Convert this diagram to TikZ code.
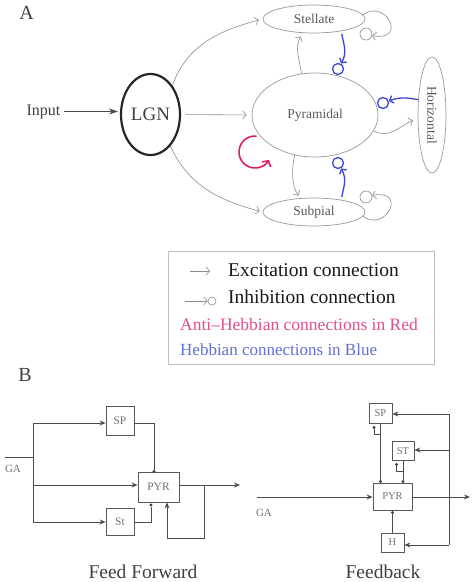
\documentclass[tikz,border=0pt]{standalone}
\usepackage{fontspec}
\setmainfont{Liberation Serif}
\usetikzlibrary{shapes.geometric,arrows.meta,calc}
\definecolor{hblue}{RGB}{60,70,220}
\definecolor{hred}{RGB}{225,30,100}
\definecolor{legpink}{RGB}{225,80,140}
\definecolor{legblue}{RGB}{100,110,215}
\begin{document}
\begin{tikzpicture}[x=1pt,y=1pt,
  ell/.style={ellipse,draw=black!40,line width=0.7pt,inner sep=0pt,text=black!65,font=\fontsize{13.5}{14}\selectfont},
  exc/.style={draw=black!45,line width=0.6pt,-{Straight Barb[length=3.5pt,width=8pt]}},
  hebb/.style={draw=hblue,line width=1.3pt,-{Straight Barb[length=3.5pt,width=8pt]}},
  inhb/.style={circle,draw=hblue,line width=1.3pt,minimum size=11pt,inner sep=0pt},
  inhg/.style={circle,draw=black!45,line width=0.6pt,minimum size=12pt,inner sep=0pt},
  bx/.style={draw=black!65,line width=0.8pt,inner sep=0pt,text=black!55,font=\fontsize{11.5}{12}\selectfont},
  ln/.style={draw=black!70,line width=0.9pt},
  lnar/.style={ln,-{Stealth[length=6pt,width=5pt]}},
  dot/.style={circle,fill=black!75,inner sep=0pt,minimum size=3.2pt},
  lbl/.style={text=black!75},
]
\useasboundingbox (0,0) rectangle (474,-582);
% ---------- Panel A ----------
\node[lbl,font=\fontsize{20}{22}\selectfont] (la) at (26.5,-13) {A};
\node[ell,line width=2.2pt,draw=black!85,minimum width=59pt,minimum height=81pt,text=black!75,font=\fontsize{19}{20}\selectfont] (lgn) at (150.5,-114.5) {LGN};
\node[ell,minimum width=102pt,minimum height=28pt] (st) at (314,-19) {Stellate};
\node[ell,minimum width=126pt,minimum height=84pt] (pyr) at (315,-115) {Pyramidal};
\node[ell,minimum width=28pt,minimum height=116pt] (hor) at (432,-115) {};
\node[rotate=-90,text=black!65,font=\fontsize{13.5}{14}\selectfont] (hort) at (432,-115) {Horizontal};
\node[ell,minimum width=102pt,minimum height=28pt] (sp) at (314,-212) {Subpial};
\node[anchor=base west,lbl,font=\fontsize{16}{17}\selectfont] (inp) at (23,-115) {Input};
\draw[line width=0.8pt,draw=black!70,-{Stealth[length=9pt,width=6pt]},shorten >=2pt] (inp.east) -- (inp.east -| lgn.west);
% excitatory
\draw[exc,shorten <=5pt,shorten >=5pt] (lgn.east) -- (pyr.west);
\draw[exc,shorten >=4pt] (lgn.53) to[out=70,in=195] (st.west);
\draw[exc,shorten >=3pt] (lgn.-58) to[out=-65,in=165] (sp.west);
\draw[exc,shorten >=4pt] (pyr.108) to[out=100,in=-120] (st.231);
\draw[exc,shorten >=3pt] (pyr.243) to[out=-100,in=120] (sp.136);
\draw[exc,shorten >=5pt] (pyr.-15) to[out=-30,in=200] (hor.195);
% self loops with inhibition
\node[inhg] (ic1) at (366,-34) {};
\node[inhg] (ic2) at (366,-197) {};
\draw[exc] (st.5) .. controls (386,2) and (408,-42) .. (ic1.-15);
\draw[exc] (sp.-5) .. controls (386,-233) and (408,-189) .. (ic2.15);
% Hebbian (blue)
\node[inhb] (is1) at (338,-69) {};
\node[inhb] (is2) at (338,-163) {};
\node[inhb] (ih) at (383,-103) {};
\draw[hebb,shorten <=3pt] (st.-24) to[out=-80,in=60] (is1);
\draw[hebb,shorten <=3pt] (sp.24) to[out=80,in=-60] (is2);
\draw[hebb] (hor.132) to[out=170,in=20] (ih);
% Anti-Hebbian (red)
\coordinate (rc) at (255,-152);
\draw[hred,line width=1.6pt,-{Straight Barb[length=4pt,width=10pt]}] ([shift={(84:16)}]rc) arc[start angle=84,end angle=330,radius=16];
% ---------- Legend ----------
\node[draw=black!25,line width=0.6pt,minimum width=266pt,minimum height=113pt,anchor=north west,inner sep=0pt] (leg) at (168,-251) {};
\coordinate (e1) at (190,-271);
\coordinate (e2) at (210,-271);
\draw[exc] (e1) -- (e2);
\coordinate (i1) at (185,-301);
\node[circle,draw=black!45,line width=0.6pt,minimum size=8pt,inner sep=0pt] (lc) at (212,-301) {};
\draw[exc] (i1) -- (lc);
\node[anchor=base west,text=black!90,font=\fontsize{19.5}{21}\selectfont,inner sep=0pt] (lt1) at (228,-276.7) {Excitation connection};
\node[anchor=base west,text=black!90,font=\fontsize{19.5}{21}\selectfont,inner sep=0pt] (lt2) at (228,-303) {Inhibition connection};
\node[anchor=base west,text=legpink,font=\fontsize{17.5}{19}\selectfont,inner sep=0pt] (lt3) at (180,-330.7) {Anti–Hebbian connections in Red};
\node[anchor=base west,text=legblue,font=\fontsize{17}{19}\selectfont,inner sep=0pt] (lt4) at (180,-355) {Hebbian connections in Blue};
% ---------- Panel B ----------
\node[lbl,font=\fontsize{20}{22}\selectfont] (lb) at (25,-375) {B};
% Feed forward
\node[bx,minimum width=28pt,minimum height=29pt] (spf) at (120,-420.5) {SP};
\node[bx,minimum width=41pt,minimum height=30pt] (pyrf) at (158.5,-487) {PYR};
\node[bx,minimum width=28pt,minimum height=27pt] (stf) at (120,-521.5) {St};
\coordinate (gaf) at (5,-457);
\coordinate (jf) at (33,-457);
\coordinate (jt) at (33,-423);
\coordinate (jm) at (33,-485);
\coordinate (jb) at (33,-522);
\node[text=black!55,font=\fontsize{11}{12}\selectfont] (galf) at (13,-469) {GA};
\draw[ln] (gaf) -- (jf);
\draw[ln] (jt) -- (jb);
\draw[lnar] (jt) -- (jt -| spf.west);
\draw[lnar] (jm) -- (jm -| pyrf.west);
\draw[lnar] (jb) -- (jb -| stf.west);
\node[dot] (d1) at (154,-471.5) {};
\node[dot] (d2) at (151,-505) {};
\draw[ln] (spf.east |- jt) -| (d1);
\draw[ln] (stf.east |- jb) -| (d2);
\coordinate (of) at (240,-485);
\draw[lnar] (pyrf.east |- jm) -- (of);
\coordinate (fb1) at (204,-485);
\coordinate (fb2) at (167,-538);
\draw[lnar] (fb1) |- (fb2) -- (fb2 |- pyrf.south);
\node[lbl,font=\fontsize{19.5}{21}\selectfont] (tff) at (143,-571.5) {Feed Forward};
% Feedback
\node[bx,minimum width=23pt,minimum height=20pt,font=\fontsize{10.5}{11}\selectfont] (spb) at (380.5,-413) {SP};
\node[bx,minimum width=22pt,minimum height=19pt,font=\fontsize{10.5}{11}\selectfont] (stb) at (403,-451) {ST};
\node[bx,minimum width=39pt,minimum height=27pt,font=\fontsize{10.5}{11}\selectfont] (pyrb) at (392.5,-496.5) {PYR};
\node[bx,minimum width=23pt,minimum height=19pt,font=\fontsize{10.5}{11}\selectfont] (hb) at (392.5,-542.5) {H};
\coordinate (v1) at (449,-414);
\coordinate (v2) at (449,-450);
\coordinate (v3) at (449,-545);
\draw[ln] (v1) -- (v3);
\draw[lnar] (v1) -- (v1 -| spb.east);
\draw[lnar] (v2) -- (v2 -| stb.east);
\draw[lnar] (v3) -- (v3 -| hb.east);
\node[dot] (d3) at (380.5,-481.5) {};
\node[dot] (d4) at (403,-481.5) {};
\node[dot] (d5) at (392.5,-512.5) {};
\draw[ln] (spb.south) -- (d3);
\draw[ln] (stb.south) -- (d4);
\draw[ln] (hb.north) -- (d5);
\node[dot] (h1) at (374,-427.5) {};
\node[dot] (h2) at (396.5,-464.5) {};
\draw[ln] (380.5,-434) -| (h1);
\draw[ln] (403,-471) -| (h2);
\coordinate (gab) at (257,-497);
\coordinate (ob) at (470,-497);
\node[text=black!55,font=\fontsize{11}{12}\selectfont] (galb) at (264,-513) {GA};
\draw[lnar] (gab) -- (gab -| pyrb.west);
\draw[lnar] (pyrb.east |- gab) -- (ob);
\node[lbl,font=\fontsize{19.5}{21}\selectfont] (tfb) at (383,-572) {Feedback};
\end{tikzpicture}
\end{document}
